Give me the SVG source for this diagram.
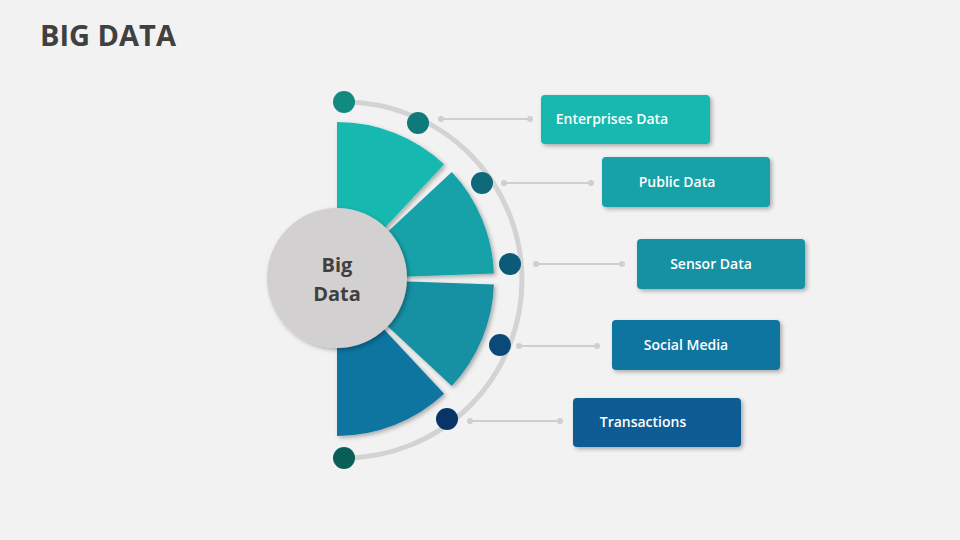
<svg xmlns="http://www.w3.org/2000/svg" width="960" height="540" viewBox="0 0 960 540">
<defs>
<filter id="sh" x="-20%" y="-20%" width="140%" height="140%"><feDropShadow dx="2" dy="2" stdDeviation="2" flood-color="#000" flood-opacity="0.3"/></filter>
</defs>
<style>
.box{filter:url(#sh)}
.lbl{font-family:"Open Sans","Liberation Sans",sans-serif;font-size:14px;font-weight:600;fill:#fff;text-anchor:middle}
.ln{stroke:#cfcfcf;stroke-width:2}
.ld{fill:#cfcfcf}
</style>
<rect width="960" height="540" fill="#f2f2f2"/>
<text x="40" y="46" font-family="Open Sans,Liberation Sans,sans-serif" font-size="29" font-weight="bold" fill="#404040">BIG DATA</text>
<path d="M344 102 A177 177 0 0 1 344 458" fill="none" stroke="#d3d3d3" stroke-width="5"/>
<g id="sectors" filter="url(#sh)">
<path d="M337 279 L337 122 A157 157 0 0 1 444.1 164.2 Z" fill="#13b8b0"/>
<path d="M337 279 L451.8 171.9 A157 157 0 0 1 493.9 273.5 Z" fill="#12a2a8"/>
<path d="M337 279 L493.9 284.5 A157 157 0 0 1 451.8 386.1 Z" fill="#1490a3"/>
<path d="M337 279 L444.1 393.8 A157 157 0 0 1 337 436 Z" fill="#1174a0"/>
</g>
<g id="center" filter="url(#sh)"><circle cx="337" cy="278" r="70" fill="#d2d0d1"/></g>
<text x="337" y="272" font-family="Open Sans,Liberation Sans,sans-serif" font-size="20" font-weight="bold" fill="#404040" text-anchor="middle">Big</text>
<text x="337" y="301" font-family="Open Sans,Liberation Sans,sans-serif" font-size="20" font-weight="bold" fill="#404040" text-anchor="middle">Data</text>
<g id="connectors">
<line class="ln" x1="441" y1="119" x2="530" y2="119"/><circle class="ld" cx="441" cy="119" r="3"/><circle class="ld" cx="530" cy="119" r="3"/>
<line class="ln" x1="504" y1="183" x2="591" y2="183"/><circle class="ld" cx="504" cy="183" r="3"/><circle class="ld" cx="591" cy="183" r="3"/>
<line class="ln" x1="536" y1="264" x2="622" y2="264"/><circle class="ld" cx="536" cy="264" r="3"/><circle class="ld" cx="622" cy="264" r="3"/>
<line class="ln" x1="519" y1="346" x2="597" y2="346"/><circle class="ld" cx="519" cy="346" r="3"/><circle class="ld" cx="597" cy="346" r="3"/>
<line class="ln" x1="470" y1="421" x2="560" y2="421"/><circle class="ld" cx="470" cy="421" r="3"/><circle class="ld" cx="560" cy="421" r="3"/>
</g>
<g id="dots">
<circle cx="344" cy="102" r="11" fill="#138a80"/>
<circle cx="418" cy="123" r="11" fill="#107a7a"/>
<circle cx="482" cy="183" r="11" fill="#0e6a7a"/>
<circle cx="510" cy="264" r="11" fill="#0b5a78"/>
<circle cx="500" cy="345" r="11" fill="#0a4a78"/>
<circle cx="447" cy="419" r="11" fill="#083468"/>
<circle cx="344" cy="458" r="11" fill="#0a5e58"/>
</g>
<g id="n1"><rect class="box" x="541" y="95" width="169" height="49" rx="4" fill="#13b8b0"/><text class="lbl" x="612" y="124">Enterprises Data</text></g>
<g id="n2"><rect class="box" x="602" y="157" width="168" height="50" rx="4" fill="#12a2a8"/><text class="lbl" x="677" y="187">Public Data</text></g>
<g id="n3"><rect class="box" x="637" y="239" width="168" height="50" rx="4" fill="#1490a3"/><text class="lbl" x="711" y="269">Sensor Data</text></g>
<g id="n4"><rect class="box" x="612" y="320" width="168" height="50" rx="4" fill="#1174a0"/><text class="lbl" x="686" y="350">Social Media</text></g>
<g id="n5"><rect class="box" x="573" y="398" width="168" height="49" rx="4" fill="#0e5b93"/><text class="lbl" x="643" y="427">Transactions</text></g>
</svg>
